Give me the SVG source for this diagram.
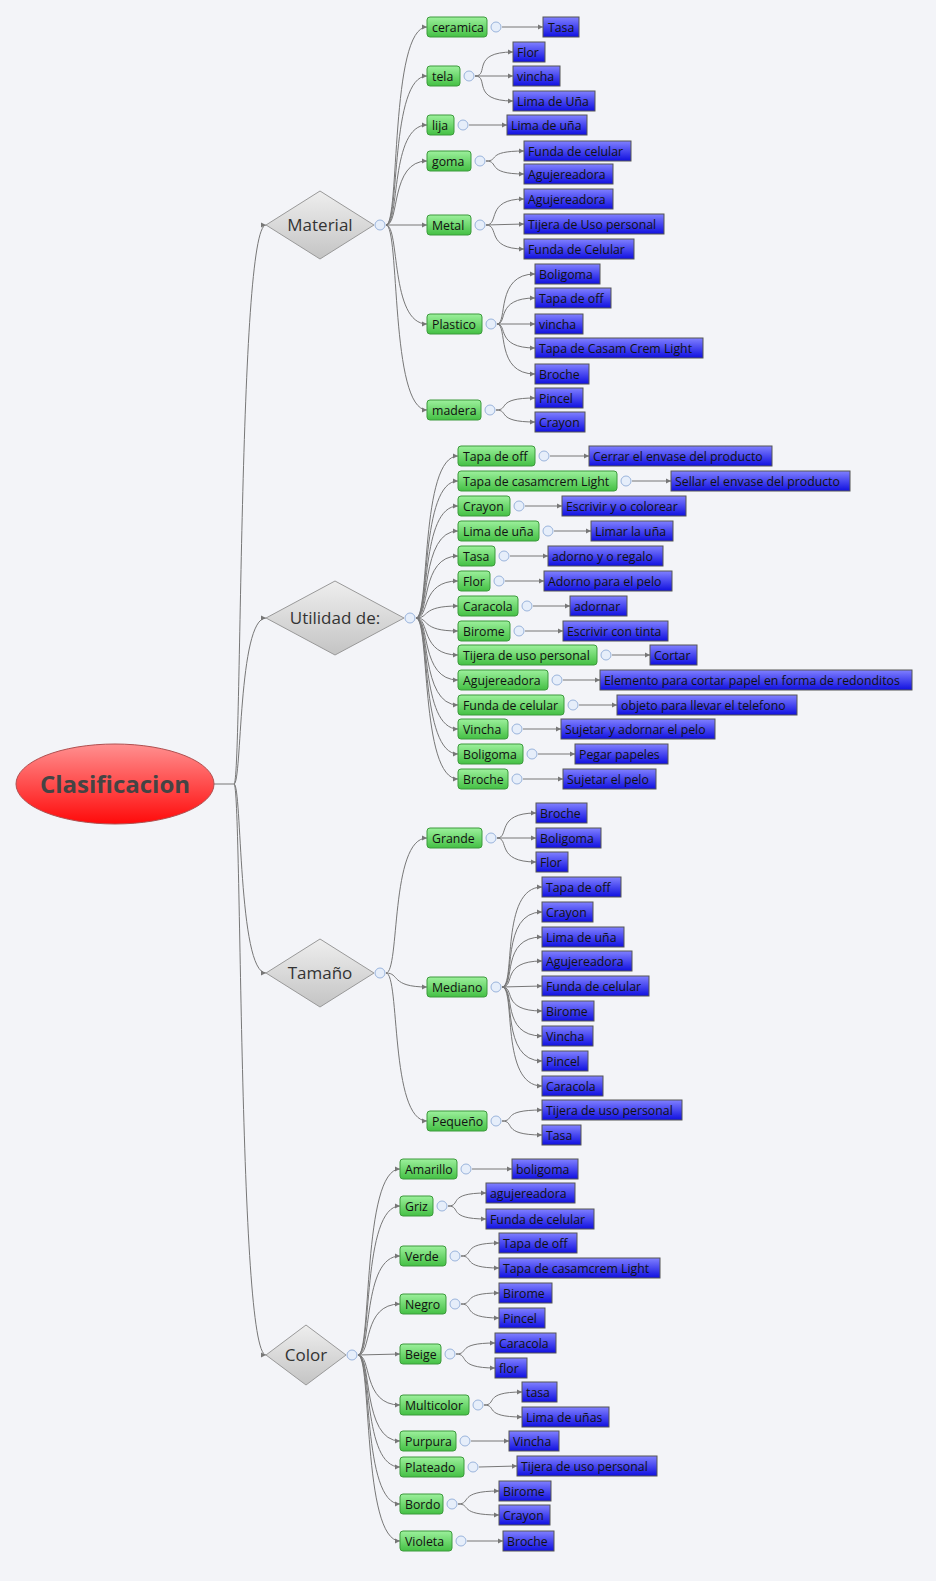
<svg xmlns="http://www.w3.org/2000/svg" width="936" height="1581" viewBox="0 0 936 1581">
<defs>
<linearGradient id="gg" x1="0" y1="0" x2="0" y2="1"><stop offset="0" stop-color="#9cf09c"/><stop offset="1" stop-color="#44c044"/></linearGradient>
<linearGradient id="bg" x1="0" y1="0" x2="0" y2="1"><stop offset="0" stop-color="#8080ff"/><stop offset="1" stop-color="#1010e0"/></linearGradient>
<linearGradient id="dg" x1="0" y1="0" x2="0" y2="1"><stop offset="0" stop-color="#eeeeee"/><stop offset="1" stop-color="#c4c4c4"/></linearGradient>
<linearGradient id="rg" x1="0" y1="0" x2="0" y2="1"><stop offset="0" stop-color="#ff9090"/><stop offset="1" stop-color="#ff0a0a"/></linearGradient>
<marker id="a" markerWidth="6" markerHeight="6" refX="5" refY="3" orient="auto" markerUnits="userSpaceOnUse"><path d="M0,0.5 L5,3 L0,5.5 z" fill="#777"/></marker>
<style>
text{font-family:"Open Sans","Liberation Sans",sans-serif;font-size:12.3px;fill:#111}
.g{fill:url(#gg);stroke:#3c9a3c;stroke-width:1}
.b{fill:url(#bg);stroke:#555;stroke-width:1}
.d{fill:url(#dg);stroke:#999;stroke-width:1}
.c{fill:#e6eefa;stroke:#9ab4dc;stroke-width:1}
#conn path{fill:none;stroke:#777;stroke-width:1;marker-end:url(#a)}
#conn path.t{marker-end:none}
.dt{font-size:17px;fill:#333}
</style>
</defs>
<rect width="936" height="1581" fill="#f3f4f8"/>
<g id="conn">
<path class="t" d="M214,784 L234,784"/>
<path d="M234,784 C242,784 238,225 266,225"/>
<path d="M234,784 C242,784 238,618 266,618"/>
<path d="M234,784 C242,784 238,973 266,973"/>
<path d="M234,784 C242,784 238,1355 266,1355"/>
<path d="M386,225 C400,225 390,27 427,27"/><path d="M386,225 C400,225 390,76 427,76"/><path d="M386,225 C400,225 390,125 427,125"/><path d="M386,225 C400,225 390,161 427,161"/><path d="M386,225 L427,225"/><path d="M386,225 C400,225 390,324 427,324"/><path d="M386,225 C400,225 390,410 427,410"/>
<path d="M502,27 L543,27"/>
<path d="M475,76 C490,76 470,52 513,52"/><path d="M475,76 L513,76"/><path d="M475,76 C490,76 470,101 513,101"/>
<path d="M469,125 L507,125"/>
<path d="M486,161 C500,161 485,151 524,151"/><path d="M486,161 C500,161 485,174 524,174"/>
<path d="M486,225 C500,225 485,199 524,199"/><path d="M486,225 L524,224"/><path d="M486,225 C500,225 485,249 524,249"/>
<path d="M497,324 C508,324 495,274 535,274"/><path d="M497,324 C508,324 495,298 535,298"/><path d="M497,324 L535,324"/><path d="M497,324 C508,324 495,348 535,348"/><path d="M497,324 C508,324 495,374 535,374"/>
<path d="M496,410 C510,410 495,398 535,398"/><path d="M496,410 C510,410 495,422 535,422"/>
<path d="M416,618 C430,618 420,456 458,456"/><path d="M416,618 C430,618 420,481 458,481"/><path d="M416,618 C430,618 420,506 458,506"/><path d="M416,618 C430,618 420,531 458,531"/><path d="M416,618 C430,618 420,556 458,556"/><path d="M416,618 C430,618 420,581 458,581"/><path d="M416,618 C430,618 420,606 458,606"/><path d="M416,618 C430,618 420,631 458,631"/><path d="M416,618 C430,618 420,655 458,655"/><path d="M416,618 C430,618 420,680 458,680"/><path d="M416,618 C430,618 420,705 458,705"/><path d="M416,618 C430,618 420,729 458,729"/><path d="M416,618 C430,618 420,754 458,754"/><path d="M416,618 C430,618 420,779 458,779"/>
<path d="M550,456 L589,456"/><path d="M632,481 L671,481"/><path d="M525,506 L562,506"/><path d="M554,531 L591,531"/><path d="M510,556 L548,556"/><path d="M505,581 L544,581"/><path d="M533,606 L570,606"/><path d="M525,631 L563,631"/><path d="M612,655 L650,655"/><path d="M563,680 L600,680"/><path d="M579,705 L617,705"/><path d="M523,729 L561,729"/><path d="M538,754 L575,754"/><path d="M523,779 L563,779"/>
<path d="M386,973 C400,973 390,838 427,838"/><path d="M386,973 C400,973 390,987 427,987"/><path d="M386,973 C400,973 390,1121 427,1121"/>
<path d="M497,838 C510,838 495,813 536,813"/><path d="M497,838 L536,838"/><path d="M497,838 C510,838 495,862 536,862"/>
<path d="M502,987 C516,987 500,887 542,887"/><path d="M502,987 C516,987 500,912 542,912"/><path d="M502,987 C516,987 500,937 542,937"/><path d="M502,987 C516,987 500,961 542,961"/><path d="M502,987 L542,986"/><path d="M502,987 C516,987 500,1011 542,1011"/><path d="M502,987 C516,987 500,1036 542,1036"/><path d="M502,987 C516,987 500,1061 542,1061"/><path d="M502,987 C516,987 500,1086 542,1086"/>
<path d="M502,1121 C516,1121 500,1110 542,1110"/><path d="M502,1121 C516,1121 500,1135 542,1135"/>
<path d="M358,1355 C372,1355 362,1169 400,1169"/><path d="M358,1355 C372,1355 362,1206 400,1206"/><path d="M358,1355 C372,1355 362,1256 400,1256"/><path d="M358,1355 C372,1355 362,1304 400,1304"/><path d="M358,1355 L400,1354"/><path d="M358,1355 C372,1355 362,1405 400,1405"/><path d="M358,1355 C372,1355 362,1441 400,1441"/><path d="M358,1355 C372,1355 362,1467 400,1467"/><path d="M358,1355 C372,1355 362,1504 400,1504"/><path d="M358,1355 C372,1355 362,1541 400,1541"/>
<path d="M472,1169 L512,1169"/>
<path d="M448,1206 C462,1206 446,1193 486,1193"/><path d="M448,1206 C462,1206 446,1219 486,1219"/>
<path d="M461,1256 C475,1256 460,1243 499,1243"/><path d="M461,1256 C475,1256 460,1268 499,1268"/>
<path d="M461,1304 C475,1304 460,1293 499,1293"/><path d="M461,1304 C475,1304 460,1318 499,1318"/>
<path d="M456,1354 C470,1354 455,1343 495,1343"/><path d="M456,1354 C470,1354 455,1368 495,1368"/>
<path d="M484,1405 C498,1405 482,1392 522,1392"/><path d="M484,1405 C498,1405 482,1417 522,1417"/>
<path d="M471,1441 L509,1441"/>
<path d="M479,1467 L517,1466"/>
<path d="M458,1504 C472,1504 457,1491 499,1491"/><path d="M458,1504 C472,1504 457,1515 499,1515"/>
<path d="M467,1541 L503,1541"/>
</g>
<g id="root"><ellipse cx="115" cy="784" rx="99" ry="40" fill="url(#rg)" stroke="#b05050"/><text x="115" y="793" text-anchor="middle" style="font-size:24px;font-weight:bold;fill:#444">Clasificacion</text></g>
<g id="material"><polygon class="d" points="266,225 320,191 374,225 320,259"/><text class="dt" x="320" y="231" text-anchor="middle">Material</text><circle class="c" cx="380" cy="225" r="5"/></g>
<g id="utilidad"><polygon class="d" points="266,618 335,581 404,618 335,655"/><text class="dt" x="335" y="624" text-anchor="middle">Utilidad de:</text><circle class="c" cx="410" cy="618" r="5"/></g>
<g id="tamano"><polygon class="d" points="266,973 320,939 374,973 320,1007"/><text class="dt" x="320" y="979" text-anchor="middle">Tamaño</text><circle class="c" cx="380" cy="973" r="5"/></g>
<g id="color"><polygon class="d" points="266,1355 306,1325 346,1355 306,1385"/><text class="dt" x="306" y="1361" text-anchor="middle">Color</text><circle class="c" cx="352" cy="1355" r="5"/></g>
<g id="m1"><rect class="g" x="427" y="17" width="60" height="20" rx="3"/><text x="432" y="32">ceramica</text><circle class="c" cx="496" cy="27" r="5"/></g>
<g id="m2"><rect class="g" x="427" y="66" width="33" height="20" rx="3"/><text x="432" y="81">tela</text><circle class="c" cx="469" cy="76" r="5"/></g>
<g id="m3"><rect class="g" x="427" y="115" width="27" height="20" rx="3"/><text x="432" y="130">lija</text><circle class="c" cx="463" cy="125" r="5"/></g>
<g id="m4"><rect class="g" x="427" y="151" width="44" height="20" rx="3"/><text x="432" y="166">goma</text><circle class="c" cx="480" cy="161" r="5"/></g>
<g id="m5"><rect class="g" x="427" y="215" width="44" height="20" rx="3"/><text x="432" y="230">Metal</text><circle class="c" cx="480" cy="225" r="5"/></g>
<g id="m6"><rect class="g" x="427" y="314" width="55" height="20" rx="3"/><text x="432" y="329">Plastico</text><circle class="c" cx="491" cy="324" r="5"/></g>
<g id="m7"><rect class="g" x="427" y="400" width="54" height="20" rx="3"/><text x="432" y="415">madera</text><circle class="c" cx="490" cy="410" r="5"/></g>
<g id="u1"><rect class="g" x="458" y="446" width="77" height="20" rx="3"/><text x="463" y="461">Tapa de off</text><circle class="c" cx="544" cy="456" r="5"/></g>
<g id="u2"><rect class="g" x="458" y="471" width="159" height="20" rx="3"/><text x="463" y="486">Tapa de casamcrem Light</text><circle class="c" cx="626" cy="481" r="5"/></g>
<g id="u3"><rect class="g" x="458" y="496" width="52" height="20" rx="3"/><text x="463" y="511">Crayon</text><circle class="c" cx="519" cy="506" r="5"/></g>
<g id="u4"><rect class="g" x="458" y="521" width="81" height="20" rx="3"/><text x="463" y="536">Lima de uña</text><circle class="c" cx="548" cy="531" r="5"/></g>
<g id="u5"><rect class="g" x="458" y="546" width="37" height="20" rx="3"/><text x="463" y="561">Tasa</text><circle class="c" cx="504" cy="556" r="5"/></g>
<g id="u6"><rect class="g" x="458" y="571" width="32" height="20" rx="3"/><text x="463" y="586">Flor</text><circle class="c" cx="499" cy="581" r="5"/></g>
<g id="u7"><rect class="g" x="458" y="596" width="60" height="20" rx="3"/><text x="463" y="611">Caracola</text><circle class="c" cx="527" cy="606" r="5"/></g>
<g id="u8"><rect class="g" x="458" y="621" width="52" height="20" rx="3"/><text x="463" y="636">Birome</text><circle class="c" cx="519" cy="631" r="5"/></g>
<g id="u9"><rect class="g" x="458" y="645" width="139" height="20" rx="3"/><text x="463" y="660">Tijera de uso personal</text><circle class="c" cx="606" cy="655" r="5"/></g>
<g id="u10"><rect class="g" x="458" y="670" width="90" height="20" rx="3"/><text x="463" y="685">Agujereadora</text><circle class="c" cx="557" cy="680" r="5"/></g>
<g id="u11"><rect class="g" x="458" y="695" width="106" height="20" rx="3"/><text x="463" y="710">Funda de celular</text><circle class="c" cx="573" cy="705" r="5"/></g>
<g id="u12"><rect class="g" x="458" y="719" width="50" height="20" rx="3"/><text x="463" y="734">Vincha</text><circle class="c" cx="517" cy="729" r="5"/></g>
<g id="u13"><rect class="g" x="458" y="744" width="65" height="20" rx="3"/><text x="463" y="759">Boligoma</text><circle class="c" cx="532" cy="754" r="5"/></g>
<g id="u14"><rect class="g" x="458" y="769" width="50" height="20" rx="3"/><text x="463" y="784">Broche</text><circle class="c" cx="517" cy="779" r="5"/></g>
<g id="t1"><rect class="g" x="427" y="828" width="55" height="20" rx="3"/><text x="432" y="843">Grande</text><circle class="c" cx="491" cy="838" r="5"/></g>
<g id="t2"><rect class="g" x="427" y="977" width="60" height="20" rx="3"/><text x="432" y="992">Mediano</text><circle class="c" cx="496" cy="987" r="5"/></g>
<g id="t3"><rect class="g" x="427" y="1111" width="60" height="20" rx="3"/><text x="432" y="1126">Pequeño</text><circle class="c" cx="496" cy="1121" r="5"/></g>
<g id="c1"><rect class="g" x="400" y="1159" width="57" height="20" rx="3"/><text x="405" y="1174">Amarillo</text><circle class="c" cx="466" cy="1169" r="5"/></g>
<g id="c2"><rect class="g" x="400" y="1196" width="33" height="20" rx="3"/><text x="405" y="1211">Griz</text><circle class="c" cx="442" cy="1206" r="5"/></g>
<g id="c3"><rect class="g" x="400" y="1246" width="46" height="20" rx="3"/><text x="405" y="1261">Verde</text><circle class="c" cx="455" cy="1256" r="5"/></g>
<g id="c4"><rect class="g" x="400" y="1294" width="46" height="20" rx="3"/><text x="405" y="1309">Negro</text><circle class="c" cx="455" cy="1304" r="5"/></g>
<g id="c5"><rect class="g" x="400" y="1344" width="41" height="20" rx="3"/><text x="405" y="1359">Beige</text><circle class="c" cx="450" cy="1354" r="5"/></g>
<g id="c6"><rect class="g" x="400" y="1395" width="69" height="20" rx="3"/><text x="405" y="1410">Multicolor</text><circle class="c" cx="478" cy="1405" r="5"/></g>
<g id="c7"><rect class="g" x="400" y="1431" width="56" height="20" rx="3"/><text x="405" y="1446">Purpura</text><circle class="c" cx="465" cy="1441" r="5"/></g>
<g id="c8"><rect class="g" x="400" y="1457" width="64" height="20" rx="3"/><text x="405" y="1472">Plateado</text><circle class="c" cx="473" cy="1467" r="5"/></g>
<g id="c9"><rect class="g" x="400" y="1494" width="43" height="20" rx="3"/><text x="405" y="1509">Bordo</text><circle class="c" cx="452" cy="1504" r="5"/></g>
<g id="c10"><rect class="g" x="400" y="1531" width="52" height="20" rx="3"/><text x="405" y="1546">Violeta</text><circle class="c" cx="461" cy="1541" r="5"/></g>
<g id="l1"><rect class="b" x="543" y="17" width="36" height="20"/><text x="548" y="32">Tasa</text></g>
<g id="l2"><rect class="b" x="513" y="42" width="32" height="20"/><text x="517" y="57">Flor</text></g>
<g id="l3"><rect class="b" x="513" y="66" width="47" height="20"/><text x="517" y="81">vincha</text></g>
<g id="l4"><rect class="b" x="513" y="91" width="82" height="20"/><text x="517" y="106">Lima de Uña</text></g>
<g id="l5"><rect class="b" x="507" y="115" width="80" height="20"/><text x="511" y="130">Lima de uña</text></g>
<g id="l6"><rect class="b" x="524" y="141" width="107" height="20"/><text x="528" y="156">Funda de celular</text></g>
<g id="l7"><rect class="b" x="524" y="164" width="89" height="20"/><text x="528" y="179">Agujereadora</text></g>
<g id="l8"><rect class="b" x="524" y="189" width="89" height="20"/><text x="528" y="204">Agujereadora</text></g>
<g id="l9"><rect class="b" x="524" y="214" width="140" height="20"/><text x="528" y="229">Tijera de Uso personal</text></g>
<g id="l10"><rect class="b" x="524" y="239" width="110" height="20"/><text x="528" y="254">Funda de Celular</text></g>
<g id="l11"><rect class="b" x="535" y="264" width="65" height="20"/><text x="539" y="279">Boligoma</text></g>
<g id="l12"><rect class="b" x="535" y="288" width="76" height="20"/><text x="539" y="303">Tapa de off</text></g>
<g id="l13"><rect class="b" x="535" y="314" width="48" height="20"/><text x="539" y="329">vincha</text></g>
<g id="l14"><rect class="b" x="535" y="338" width="168" height="20"/><text x="539" y="353">Tapa de Casam Crem Light</text></g>
<g id="l15"><rect class="b" x="535" y="364" width="54" height="20"/><text x="539" y="379">Broche</text></g>
<g id="l16"><rect class="b" x="535" y="388" width="48" height="20"/><text x="539" y="403">Pincel</text></g>
<g id="l17"><rect class="b" x="535" y="412" width="50" height="20"/><text x="539" y="427">Crayon</text></g>
<g id="l18"><rect class="b" x="589" y="446" width="183" height="20"/><text x="593" y="461">Cerrar el envase del producto</text></g>
<g id="l19"><rect class="b" x="671" y="471" width="179" height="20"/><text x="675" y="486">Sellar el envase del producto</text></g>
<g id="l20"><rect class="b" x="562" y="496" width="124" height="20"/><text x="566" y="511">Escrivir y o colorear</text></g>
<g id="l21"><rect class="b" x="591" y="521" width="82" height="20"/><text x="595" y="536">Limar la uña</text></g>
<g id="l22"><rect class="b" x="548" y="546" width="115" height="20"/><text x="552" y="561">adorno y o regalo</text></g>
<g id="l23"><rect class="b" x="544" y="571" width="128" height="20"/><text x="548" y="586">Adorno para el pelo</text></g>
<g id="l24"><rect class="b" x="570" y="596" width="57" height="20"/><text x="574" y="611">adornar</text></g>
<g id="l25"><rect class="b" x="563" y="621" width="105" height="20"/><text x="567" y="636">Escrivir con tinta</text></g>
<g id="l26"><rect class="b" x="650" y="645" width="47" height="20"/><text x="654" y="660">Cortar</text></g>
<g id="l27"><rect class="b" x="600" y="670" width="312" height="20"/><text x="604" y="685">Elemento para cortar papel en forma de redonditos</text></g>
<g id="l28"><rect class="b" x="617" y="695" width="180" height="20"/><text x="621" y="710">objeto para llevar el telefono</text></g>
<g id="l29"><rect class="b" x="561" y="719" width="154" height="20"/><text x="565" y="734">Sujetar y adornar el pelo</text></g>
<g id="l30"><rect class="b" x="575" y="744" width="93" height="20"/><text x="579" y="759">Pegar papeles</text></g>
<g id="l31"><rect class="b" x="563" y="769" width="93" height="20"/><text x="567" y="784">Sujetar el pelo</text></g>
<g id="l32"><rect class="b" x="536" y="803" width="51" height="20"/><text x="540" y="818">Broche</text></g>
<g id="l33"><rect class="b" x="536" y="828" width="65" height="20"/><text x="540" y="843">Boligoma</text></g>
<g id="l34"><rect class="b" x="536" y="852" width="32" height="20"/><text x="540" y="867">Flor</text></g>
<g id="l35"><rect class="b" x="542" y="877" width="79" height="20"/><text x="546" y="892">Tapa de off</text></g>
<g id="l36"><rect class="b" x="542" y="902" width="51" height="20"/><text x="546" y="917">Crayon</text></g>
<g id="l37"><rect class="b" x="542" y="927" width="82" height="20"/><text x="546" y="942">Lima de uña</text></g>
<g id="l38"><rect class="b" x="542" y="951" width="90" height="20"/><text x="546" y="966">Agujereadora</text></g>
<g id="l39"><rect class="b" x="542" y="976" width="107" height="20"/><text x="546" y="991">Funda de celular</text></g>
<g id="l40"><rect class="b" x="542" y="1001" width="52" height="20"/><text x="546" y="1016">Birome</text></g>
<g id="l41"><rect class="b" x="542" y="1026" width="51" height="20"/><text x="546" y="1041">Vincha</text></g>
<g id="l42"><rect class="b" x="542" y="1051" width="46" height="20"/><text x="546" y="1066">Pincel</text></g>
<g id="l43"><rect class="b" x="542" y="1076" width="61" height="20"/><text x="546" y="1091">Caracola</text></g>
<g id="l44"><rect class="b" x="542" y="1100" width="140" height="20"/><text x="546" y="1115">Tijera de uso personal</text></g>
<g id="l45"><rect class="b" x="542" y="1125" width="39" height="20"/><text x="546" y="1140">Tasa</text></g>
<g id="l46"><rect class="b" x="512" y="1159" width="66" height="20"/><text x="516" y="1174">boligoma</text></g>
<g id="l47"><rect class="b" x="486" y="1183" width="89" height="20"/><text x="490" y="1198">agujereadora</text></g>
<g id="l48"><rect class="b" x="486" y="1209" width="108" height="20"/><text x="490" y="1224">Funda de celular</text></g>
<g id="l49"><rect class="b" x="499" y="1233" width="78" height="20"/><text x="503" y="1248">Tapa de off</text></g>
<g id="l50"><rect class="b" x="499" y="1258" width="161" height="20"/><text x="503" y="1273">Tapa de casamcrem Light</text></g>
<g id="l51"><rect class="b" x="499" y="1283" width="53" height="20"/><text x="503" y="1298">Birome</text></g>
<g id="l52"><rect class="b" x="499" y="1308" width="46" height="20"/><text x="503" y="1323">Pincel</text></g>
<g id="l53"><rect class="b" x="495" y="1333" width="61" height="20"/><text x="499" y="1348">Caracola</text></g>
<g id="l54"><rect class="b" x="495" y="1358" width="32" height="20"/><text x="499" y="1373">flor</text></g>
<g id="l55"><rect class="b" x="522" y="1382" width="35" height="20"/><text x="526" y="1397">tasa</text></g>
<g id="l56"><rect class="b" x="522" y="1407" width="87" height="20"/><text x="526" y="1422">Lima de uñas</text></g>
<g id="l57"><rect class="b" x="509" y="1431" width="50" height="20"/><text x="513" y="1446">Vincha</text></g>
<g id="l58"><rect class="b" x="517" y="1456" width="140" height="20"/><text x="521" y="1471">Tijera de uso personal</text></g>
<g id="l59"><rect class="b" x="499" y="1481" width="52" height="20"/><text x="503" y="1496">Birome</text></g>
<g id="l60"><rect class="b" x="499" y="1505" width="51" height="20"/><text x="503" y="1520">Crayon</text></g>
<g id="l61"><rect class="b" x="503" y="1531" width="51" height="20"/><text x="507" y="1546">Broche</text></g>
</svg>
